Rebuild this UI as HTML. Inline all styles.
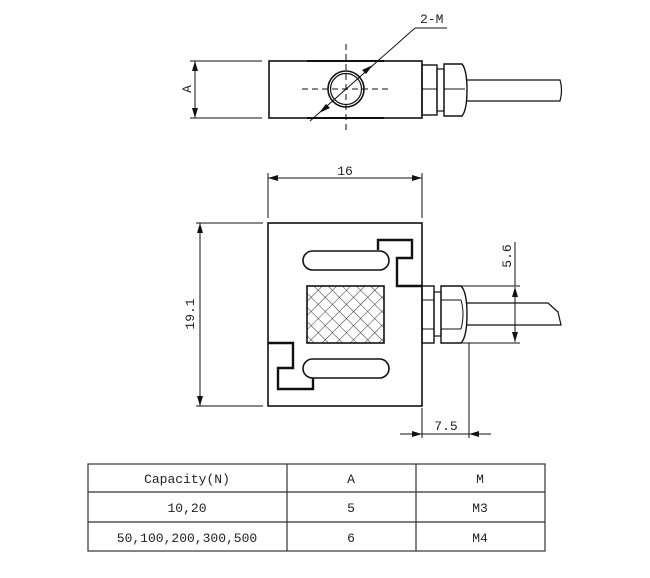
<!DOCTYPE html>
<html><head><meta charset="utf-8"><style>
html,body{margin:0;padding:0;background:#fff;width:650px;height:578px;overflow:hidden}
text{font-family:"Liberation Mono","Liberation Sans",sans-serif;fill:#222}
</style></head><body>
<svg width="650" height="578" viewBox="0 0 650 578" xmlns="http://www.w3.org/2000/svg">
<defs>
<marker id="ar" viewBox="0 0 10 6" refX="10" refY="3" markerWidth="10" markerHeight="6" orient="auto-start-reverse" markerUnits="userSpaceOnUse"><path d="M0,0L10,3L0,6z" fill="#111"/></marker>
<pattern id="hx" width="10" height="10" patternUnits="userSpaceOnUse" patternTransform="rotate(45)"><path d="M0,0H10M0,0V10" stroke="#333" stroke-width="1" fill="none"/></pattern>
</defs>
<g stroke="#111" fill="none" stroke-width="1">
<!-- TOP VIEW -->
<rect x="269" y="61" width="153" height="57" stroke-width="1.6"/>
<line x1="307" y1="61" x2="384" y2="61" stroke-width="2"/>
<line x1="307" y1="118" x2="384" y2="118" stroke-width="2"/>
<circle cx="346" cy="89" r="18" stroke-width="1.6"/>
<circle cx="346" cy="89" r="15.5" stroke-width="1.2"/>
<line x1="302" y1="89" x2="390" y2="89" stroke-dasharray="6,4"/>
<line x1="346" y1="44" x2="346" y2="134" stroke-dasharray="6,4"/>
<rect x="422" y="65" width="15" height="50" stroke-width="1.4"/>
<line x1="422" y1="89" x2="437" y2="89"/>
<rect x="437" y="69" width="7" height="42" stroke-width="1.2"/>
<path d="M444,64H462Q467,70 467,90Q467,110 462,116H444Z" stroke-width="1.4"/>
<line x1="444" y1="89" x2="465" y2="89"/>
<path d="M467,80H560Q563,90 560,101H467" stroke-width="1.2"/>
<!-- A dim -->
<line x1="190" y1="61" x2="262" y2="61"/><line x1="190" y1="118" x2="262" y2="118"/>
<line x1="195" y1="61" x2="195" y2="118" marker-start="url(#ar)" marker-end="url(#ar)"/>
<!-- 2-M leader -->
<line x1="310" y1="121" x2="415" y2="28"/>
<line x1="415" y1="28" x2="447" y2="28"/>
<!-- FRONT VIEW -->
<rect x="268" y="223" width="154" height="183" stroke-width="1.6"/>
<rect x="303" y="251" width="86" height="19" rx="9.5" stroke-width="1.6"/>
<rect x="303" y="359" width="86" height="19" rx="9.5" stroke-width="1.6"/>
<rect x="307" y="286" width="77" height="57" fill="url(#hx)" stroke-width="1.6"/>
<path d="M422,286H397V258H412V240H378V250" stroke-width="2.4"/>
<path d="M268,343H293V368H278V389H313V378" stroke-width="2.4"/>
<rect x="422" y="286" width="12" height="57" stroke-width="1.4"/>
<line x1="422" y1="300" x2="434" y2="300"/><line x1="422" y1="329" x2="434" y2="329"/>
<rect x="434" y="292" width="7" height="44" stroke-width="1.2"/>
<path d="M441,286H461Q467,292 467,314Q467,337 461,343H441Z" stroke-width="1.4"/>
<line x1="441" y1="300" x2="461" y2="300"/><line x1="441" y1="329" x2="461" y2="329"/>
<path d="M461,300Q465,314 461,329"/>
<path d="M467,303H548L558,312L561,325H467" stroke-width="1.2"/>
<!-- 16 -->
<line x1="268" y1="173" x2="268" y2="218"/><line x1="422" y1="173" x2="422" y2="218"/>
<line x1="268" y1="178" x2="422" y2="178" marker-start="url(#ar)" marker-end="url(#ar)"/>
<!-- 19.1 -->
<line x1="196" y1="223" x2="263" y2="223"/><line x1="196" y1="406" x2="263" y2="406"/>
<line x1="200" y1="223" x2="200" y2="406" marker-start="url(#ar)" marker-end="url(#ar)"/>
<!-- 5.6 -->
<line x1="441" y1="286" x2="520" y2="286"/><line x1="441" y1="343" x2="520" y2="343"/>
<line x1="515" y1="242" x2="515" y2="286"/>
<line x1="515" y1="314" x2="515" y2="287" marker-end="url(#ar)"/>
<line x1="515" y1="314" x2="515" y2="342" marker-end="url(#ar)"/>
<!-- 7.5 -->
<line x1="422" y1="408" x2="422" y2="438"/><line x1="469" y1="343" x2="469" y2="438"/>
<line x1="400" y1="434" x2="422" y2="434" marker-end="url(#ar)"/>
<line x1="491" y1="434" x2="469" y2="434" marker-end="url(#ar)"/>
<line x1="422" y1="434" x2="469" y2="434"/>
</g>
<!-- small arrows for 2-M -->
<path d="M373,65L366,74L362,70Z" fill="#111"/>
<path d="M319,113L326,104L330,108Z" fill="#111"/>
<text x="420" y="23" font-size="13">2-M</text>
<text x="0" y="0" font-size="13" transform="translate(191,89) rotate(-90)" text-anchor="middle">A</text>
<text x="345" y="175" font-size="13" text-anchor="middle">16</text>
<text x="0" y="0" font-size="13" transform="translate(194,314) rotate(-90)" text-anchor="middle">19.1</text>
<text x="0" y="0" font-size="13" transform="translate(511,256) rotate(-90)" text-anchor="middle">5.6</text>
<text x="446" y="430" font-size="13" text-anchor="middle">7.5</text>
<!-- TABLE -->
<g stroke="#333" fill="none" stroke-width="1.2">
<rect x="88" y="464" width="457" height="87"/>
<line x1="88" y1="492" x2="545" y2="492"/><line x1="88" y1="522" x2="545" y2="522"/>
<line x1="287" y1="464" x2="287" y2="551"/><line x1="416" y1="464" x2="416" y2="551"/>
</g>
<g font-size="13" text-anchor="middle">
<text x="187" y="483">Capacity(N)</text><text x="351" y="483">A</text><text x="480" y="483">M</text>
<text x="187" y="512">10,20</text><text x="351" y="512">5</text><text x="480" y="512">M3</text>
<text x="187" y="542">50,100,200,300,500</text><text x="351" y="542">6</text><text x="480" y="542">M4</text>
</g>
</svg>
</body></html>
